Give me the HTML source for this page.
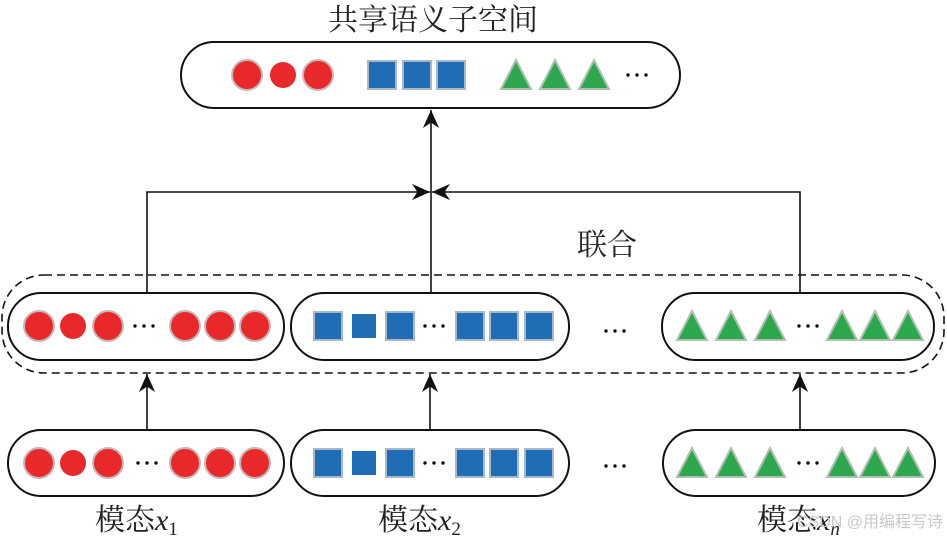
<!DOCTYPE html>
<html><head><meta charset="utf-8"><style>
html,body{margin:0;padding:0;background:#fff;}
svg{display:block;}
text{font-family:"Liberation Serif","Noto Serif CJK SC",serif;fill:#222;}
</style></head><body>
<svg width="947" height="537" viewBox="0 0 947 537" xmlns="http://www.w3.org/2000/svg">
<defs>
<marker id="ah" viewBox="0 0 10 10" refX="10" refY="5" markerWidth="18" markerHeight="18" markerUnits="userSpaceOnUse" orient="auto">
<path d="M0,0.5 L10,5 L0,9.5 L3,5 Z" fill="#111"/></marker>
<g id="c"><circle r="15" fill="#e8282a" stroke="#c8b8b8" stroke-width="2"/></g>
<g id="cs"><circle r="13" fill="#e8282a"/></g>
<g id="s"><rect x="-14" y="-14" width="28" height="28" fill="#1f6db5" stroke="#a8b8c8" stroke-width="2"/></g>
<g id="ss"><rect x="-12" y="-12" width="24" height="24" fill="#1f6db5"/></g>
<g id="t"><path d="M0,-15 L15,14 L-15,14 Z" fill="#2ea84f" stroke="#b0c0b0" stroke-width="2"/></g>
<g id="d"><circle cx="-9" r="1.7" fill="#111"/><circle r="1.7" fill="#111"/><circle cx="9" r="1.7" fill="#111"/></g>
</defs>

<text x="433" y="30" font-size="30" text-anchor="middle" style="font-family:'Noto Serif CJK SC',serif">共享语义子空间</text>
<rect x="181" y="42" width="499" height="66" rx="33" fill="none" stroke="#111" stroke-width="2"/>
<use href="#c" x="247" y="75"/><use href="#cs" x="283" y="75"/><use href="#c" x="318" y="75"/>
<use href="#s" x="382" y="75"/><use href="#s" x="417" y="75"/><use href="#s" x="451" y="75"/>
<use href="#t" x="516" y="75"/><use href="#t" x="555" y="75"/><use href="#t" x="594" y="75"/>
<use href="#d" x="637" y="75"/>

<line x1="431" y1="293" x2="431" y2="110" stroke="#111" stroke-width="1.6" marker-end="url(#ah)"/>
<polyline points="147,293 147,192 430,192" fill="none" stroke="#111" stroke-width="1.6" marker-end="url(#ah)"/>
<polyline points="800,293 800,192 432,192" fill="none" stroke="#111" stroke-width="1.6" marker-end="url(#ah)"/>
<text x="607" y="255" font-size="30" text-anchor="middle" style="font-family:'Noto Serif CJK SC',serif">联合</text>

<rect x="2" y="275" width="942" height="98" rx="42" fill="none" stroke="#111" stroke-width="1.6" stroke-dasharray="8,5"/>

<rect x="8" y="293" width="276" height="67" rx="33" fill="#fff" stroke="#111" stroke-width="2"/>
<use href="#c" x="39" y="326"/><use href="#cs" x="73" y="326"/><use href="#c" x="108" y="326"/>
<use href="#d" x="144" y="326"/>
<use href="#c" x="185" y="326"/><use href="#c" x="220" y="326"/><use href="#c" x="255" y="326"/>
<rect x="291" y="293" width="278" height="67" rx="33" fill="#fff" stroke="#111" stroke-width="2"/>
<use href="#s" x="328" y="326"/><use href="#ss" x="364" y="326"/><use href="#s" x="400" y="326"/>
<use href="#d" x="434" y="326"/>
<use href="#s" x="470" y="326"/><use href="#s" x="504" y="326"/><use href="#s" x="539" y="326"/>
<use href="#d" x="615" y="331"/>
<rect x="662" y="293" width="272" height="67" rx="33" fill="#fff" stroke="#111" stroke-width="2"/>
<use href="#t" x="692" y="326"/><use href="#t" x="731" y="326"/><use href="#t" x="770" y="326"/>
<use href="#d" x="808" y="326"/>
<use href="#t" x="842" y="326"/><use href="#t" x="875" y="326"/><use href="#t" x="908" y="326"/>

<line x1="147" y1="430" x2="147" y2="374" stroke="#111" stroke-width="1.6" marker-end="url(#ah)"/>
<line x1="430" y1="430" x2="430" y2="374" stroke="#111" stroke-width="1.6" marker-end="url(#ah)"/>
<line x1="800" y1="430" x2="800" y2="374" stroke="#111" stroke-width="1.6" marker-end="url(#ah)"/>

<rect x="8" y="430" width="276" height="66" rx="33" fill="#fff" stroke="#111" stroke-width="2"/>
<use href="#c" x="39" y="463"/><use href="#cs" x="73" y="463"/><use href="#c" x="108" y="463"/>
<use href="#d" x="147" y="463"/>
<use href="#c" x="185" y="463"/><use href="#c" x="220" y="463"/><use href="#c" x="255" y="463"/>
<rect x="291" y="430" width="278" height="66" rx="33" fill="#fff" stroke="#111" stroke-width="2"/>
<use href="#s" x="328" y="463"/><use href="#ss" x="364" y="463"/><use href="#s" x="400" y="463"/>
<use href="#d" x="434" y="463"/>
<use href="#s" x="470" y="463"/><use href="#s" x="504" y="463"/><use href="#s" x="539" y="463"/>
<use href="#d" x="615" y="466"/>
<rect x="663" y="430" width="272" height="66" rx="33" fill="#fff" stroke="#111" stroke-width="2"/>
<use href="#t" x="692" y="463"/><use href="#t" x="731" y="463"/><use href="#t" x="770" y="463"/>
<use href="#d" x="808" y="463"/>
<use href="#t" x="842" y="463"/><use href="#t" x="875" y="463"/><use href="#t" x="908" y="463"/>

<text x="95" y="530" font-size="30"><tspan style="font-family:'Noto Serif CJK SC',serif">模态</tspan><tspan font-style="italic">x</tspan><tspan font-size="19" dy="5">1</tspan></text>
<text x="378" y="530" font-size="30"><tspan style="font-family:'Noto Serif CJK SC',serif">模态</tspan><tspan font-style="italic">x</tspan><tspan font-size="19" dy="5">2</tspan></text>
<text x="757" y="530" font-size="30"><tspan style="font-family:'Noto Serif CJK SC',serif">模态</tspan><tspan font-style="italic">x</tspan><tspan font-size="19" dy="5" font-style="italic">n</tspan></text>
<text x="943" y="527" font-size="16" text-anchor="end" style="font-family:'Liberation Sans','Noto Sans CJK SC',sans-serif;fill:#c8c8c8">CSDN @用编程写诗</text>
</svg>
</body></html>
